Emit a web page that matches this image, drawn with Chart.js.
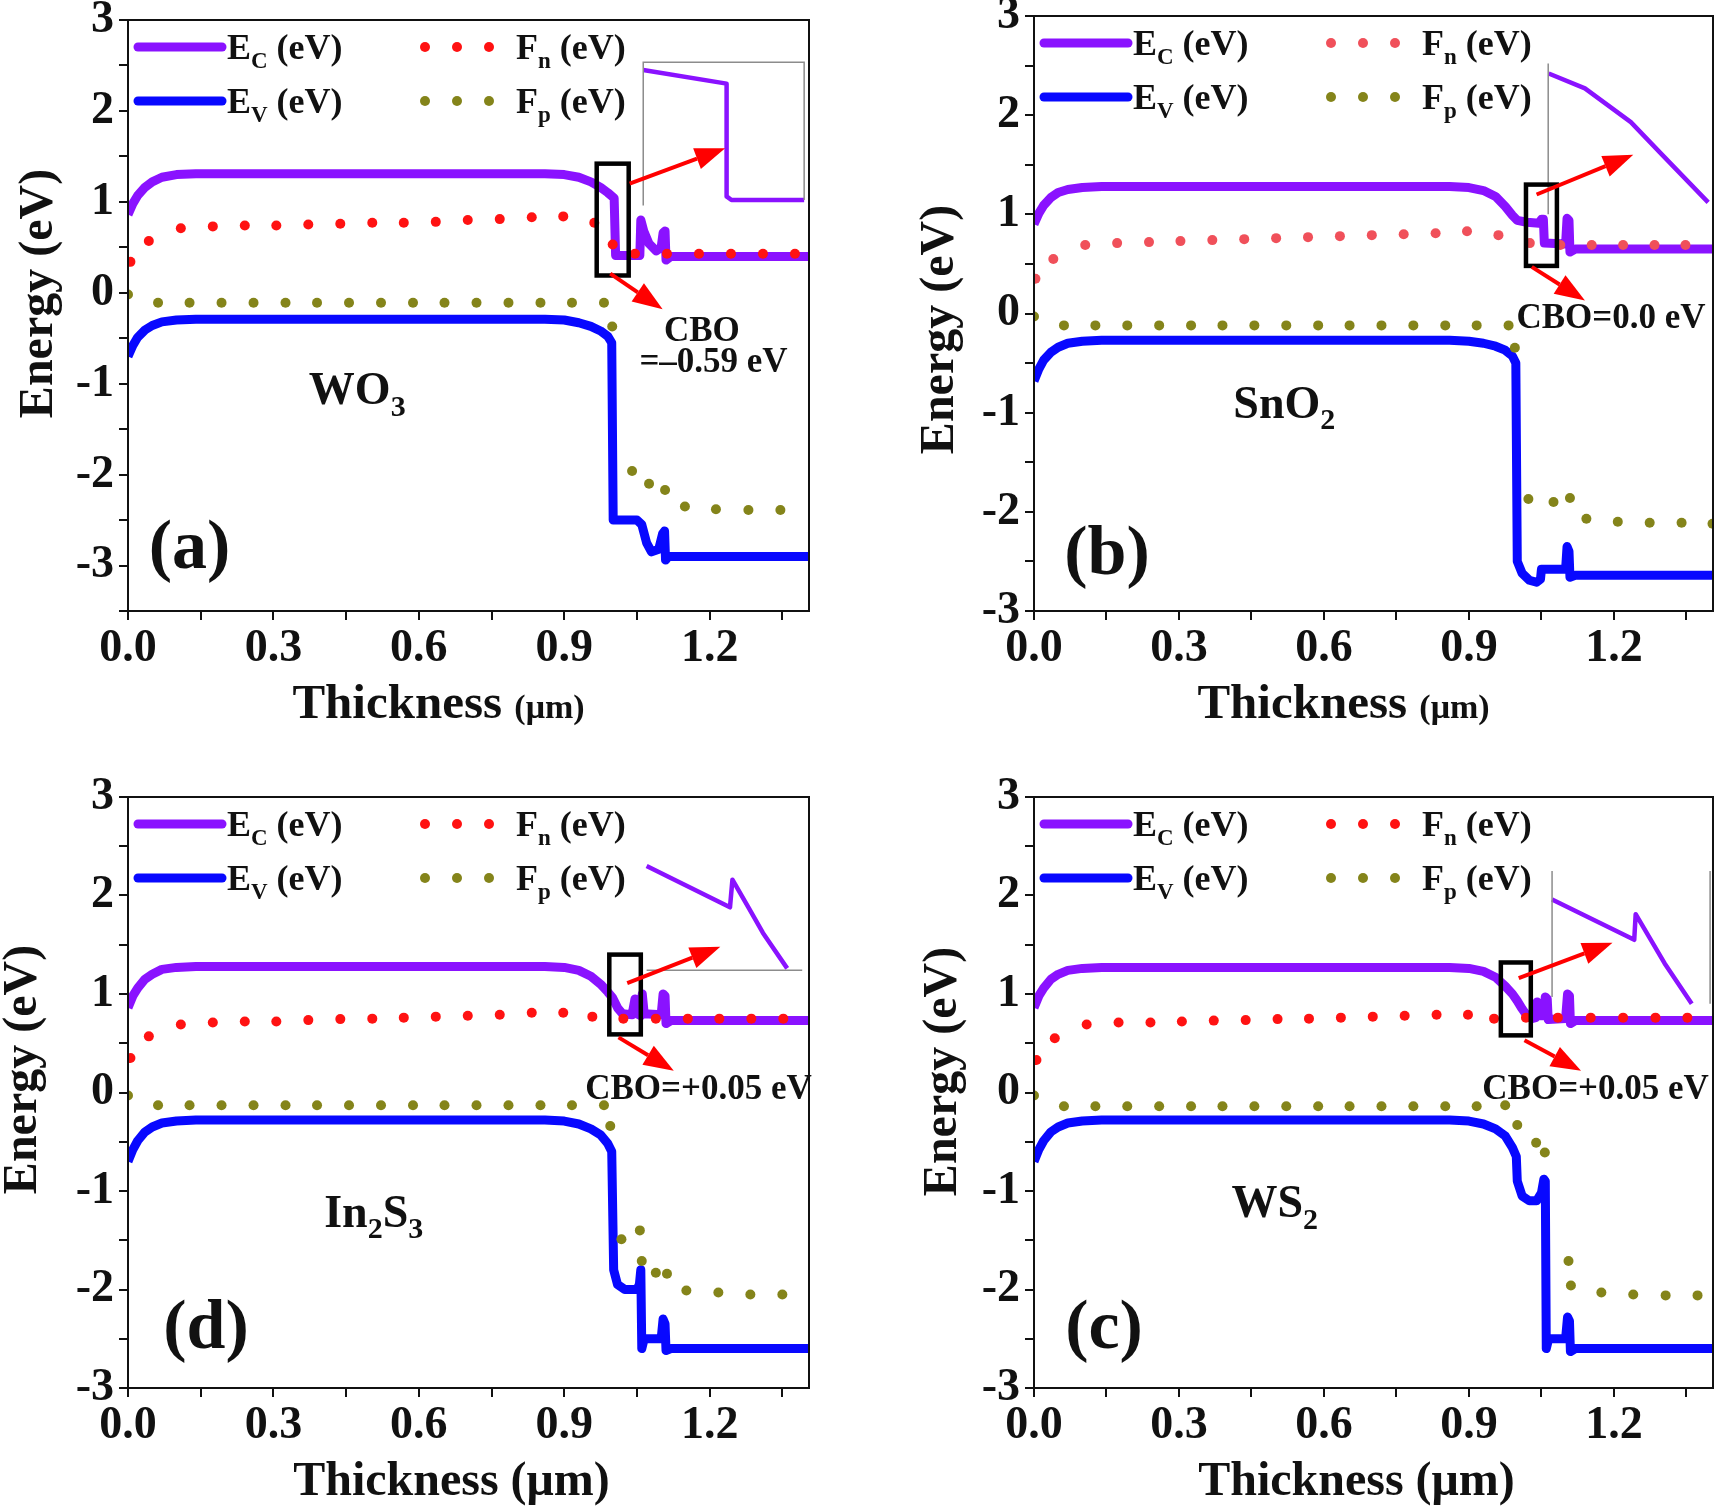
<!DOCTYPE html>
<html>
<head>
<meta charset="utf-8">
<script src="https://cdn.jsdelivr.net/npm/chart.js@4.4.1/dist/chart.umd.min.js"></script>
<style>
  html, body { margin: 0; padding: 0; background: #fff; }
  #wrap { position: relative; width: 1718px; height: 1509px; }
  canvas { position: absolute; }
</style>
</head>
<body>
<div id="wrap">
  <canvas id="cA" width="859" height="754" style="left:0;top:0"></canvas>
  <canvas id="cB" width="859" height="754" style="left:859px;top:0"></canvas>
  <canvas id="cD" width="859" height="755" style="left:0;top:754px"></canvas>
  <canvas id="cC" width="859" height="755" style="left:859px;top:754px"></canvas>
</div>
<script>
// axis ticks
const xMajor = [0, 0.3, 0.6, 0.9, 1.2];
const xMinor = [0.15, 0.45, 0.75, 1.05, 1.35];
const yMajor = [-3, -2, -1, 0, 1, 2, 3];
const yMinor = [-3.5, -2.5, -1.5, -0.5, 0.5, 1.5, 2.5];
const xMax = 1.405;

const seriesNames = ['E_C (eV)', 'E_V (eV)', 'F_n (eV)', 'F_p (eV)'];

// (a) WO3  -- [thickness um, energy eV]
const ecA = [[0,0.86],[0.01,0.98],[0.02,1.07],[0.035,1.16],[0.05,1.22],[0.07,1.27],[0.1,1.30],[0.14,1.31],[0.86,1.31],[0.9,1.30],[0.93,1.27],[0.955,1.22],[0.975,1.16],[0.99,1.10],[1.003,1.04],[1.006,0.41],[1.056,0.41],[1.058,0.80],[1.064,0.68],[1.075,0.54],[1.09,0.46],[1.1,0.50],[1.104,0.66],[1.108,0.68],[1.11,0.36],[1.12,0.40],[1.405,0.40]];
const evA = [[0,-0.70],[0.01,-0.58],[0.02,-0.49],[0.035,-0.41],[0.05,-0.36],[0.07,-0.32],[0.1,-0.30],[0.14,-0.29],[0.86,-0.29],[0.9,-0.30],[0.93,-0.33],[0.955,-0.37],[0.975,-0.42],[0.99,-0.48],[0.998,-0.55],[1.001,-2.50],[1.05,-2.50],[1.06,-2.55],[1.07,-2.75],[1.08,-2.85],[1.095,-2.82],[1.103,-2.65],[1.107,-2.62],[1.109,-2.94],[1.115,-2.90],[1.405,-2.90]];
const fnA = [[0.005,0.34],[0.043,0.57],[0.109,0.71],[0.175,0.73],[0.241,0.74],[0.306,0.74],[0.372,0.75],[0.438,0.76],[0.504,0.77],[0.569,0.77],[0.635,0.78],[0.701,0.80],[0.767,0.81],[0.833,0.83],[0.898,0.84],[0.962,0.77],[1.0,0.53],[1.046,0.43],[1.112,0.43],[1.178,0.43],[1.244,0.43],[1.31,0.43],[1.376,0.43]];
const fpA = [[0,-0.02],[0.062,-0.11],[0.127,-0.11],[0.193,-0.11],[0.259,-0.11],[0.325,-0.11],[0.39,-0.11],[0.456,-0.11],[0.522,-0.11],[0.588,-0.11],[0.653,-0.11],[0.719,-0.11],[0.785,-0.11],[0.851,-0.11],[0.916,-0.11],[0.982,-0.11],[0.999,-0.37],[1.04,-1.96],[1.075,-2.10],[1.108,-2.17],[1.149,-2.35],[1.213,-2.38],[1.28,-2.39],[1.346,-2.39]];
const insetA = [[1.063,2.45],[1.235,2.30],[1.235,1.06],[1.245,1.02],[1.395,1.02]];

// (b) SnO2
const ecB = [[0,0.90],[0.01,1.01],[0.02,1.09],[0.035,1.17],[0.05,1.22],[0.07,1.25],[0.1,1.27],[0.14,1.28],[0.86,1.28],[0.9,1.27],[0.93,1.24],[0.955,1.18],[0.975,1.08],[0.99,0.99],[1.0,0.94],[1.02,0.92],[1.045,0.91],[1.05,0.95],[1.054,0.95],[1.056,0.71],[1.1,0.70],[1.103,0.96],[1.107,0.94],[1.109,0.62],[1.12,0.65],[1.405,0.65]];
const evB = [[0,-0.68],[0.01,-0.56],[0.02,-0.47],[0.035,-0.39],[0.05,-0.34],[0.07,-0.30],[0.1,-0.28],[0.14,-0.27],[0.86,-0.27],[0.9,-0.28],[0.93,-0.30],[0.955,-0.33],[0.975,-0.37],[0.99,-0.43],[0.997,-0.50],[1.0,-2.50],[1.01,-2.62],[1.025,-2.69],[1.04,-2.71],[1.048,-2.68],[1.05,-2.58],[1.1,-2.58],[1.103,-2.35],[1.107,-2.40],[1.109,-2.66],[1.12,-2.64],[1.405,-2.64]];
const fnB = [[0.003,0.35],[0.04,0.55],[0.106,0.69],[0.172,0.71],[0.238,0.72],[0.303,0.73],[0.369,0.74],[0.435,0.75],[0.501,0.76],[0.567,0.77],[0.633,0.78],[0.699,0.79],[0.765,0.80],[0.831,0.81],[0.896,0.83],[0.961,0.79],[1.026,0.71],[1.089,0.69],[1.154,0.69],[1.219,0.69],[1.284,0.69],[1.348,0.69]];
const fpB = [[0,-0.03],[0.062,-0.12],[0.127,-0.12],[0.193,-0.12],[0.259,-0.12],[0.325,-0.12],[0.39,-0.12],[0.456,-0.12],[0.522,-0.12],[0.588,-0.12],[0.653,-0.12],[0.719,-0.12],[0.785,-0.12],[0.851,-0.12],[0.916,-0.12],[0.982,-0.12],[0.995,-0.345],[1.023,-1.87],[1.075,-1.90],[1.109,-1.86],[1.143,-2.07],[1.208,-2.10],[1.274,-2.11],[1.34,-2.11],[1.404,-2.12]];
const insetB = [[1.065,2.42],[1.14,2.27],[1.235,1.93],[1.30,1.60],[1.395,1.12]];

// (d) In2S3
const ecD = [[0,0.86],[0.01,0.98],[0.02,1.06],[0.035,1.15],[0.05,1.20],[0.07,1.25],[0.1,1.27],[0.14,1.28],[0.86,1.28],[0.9,1.27],[0.93,1.24],[0.955,1.18],[0.975,1.10],[0.99,1.02],[1.0,0.96],[1.01,0.86],[1.02,0.80],[1.04,0.79],[1.046,0.95],[1.05,0.80],[1.058,0.78],[1.061,1.0],[1.065,0.80],[1.1,0.79],[1.104,1.0],[1.108,0.98],[1.11,0.70],[1.12,0.73],[1.405,0.73]];
const evD = [[0,-0.70],[0.01,-0.58],[0.02,-0.49],[0.035,-0.40],[0.05,-0.35],[0.07,-0.31],[0.1,-0.29],[0.14,-0.28],[0.86,-0.28],[0.9,-0.29],[0.93,-0.32],[0.955,-0.37],[0.975,-0.43],[0.99,-0.52],[0.998,-0.60],[1.002,-1.80],[1.01,-1.95],[1.025,-2.0],[1.05,-2.0],[1.055,-1.95],[1.058,-1.80],[1.06,-2.60],[1.065,-2.50],[1.1,-2.50],[1.104,-2.30],[1.108,-2.35],[1.11,-2.62],[1.12,-2.60],[1.405,-2.60]];
const fnD = [[0.005,0.35],[0.043,0.57],[0.109,0.69],[0.175,0.71],[0.241,0.72],[0.306,0.72],[0.372,0.735],[0.438,0.745],[0.504,0.75],[0.569,0.76],[0.635,0.77],[0.701,0.78],[0.767,0.79],[0.833,0.81],[0.898,0.81],[0.958,0.77],[1.022,0.75],[1.089,0.75],[1.155,0.75],[1.22,0.75],[1.286,0.75],[1.352,0.75]];
const fpD = [[0,-0.03],[0.062,-0.13],[0.127,-0.13],[0.193,-0.13],[0.259,-0.13],[0.325,-0.13],[0.39,-0.13],[0.456,-0.13],[0.522,-0.13],[0.588,-0.13],[0.653,-0.13],[0.719,-0.13],[0.785,-0.13],[0.851,-0.13],[0.916,-0.13],[0.982,-0.13],[0.995,-0.34],[1.018,-1.49],[1.056,-1.40],[1.06,-1.71],[1.089,-1.83],[1.112,-1.84],[1.152,-2.01],[1.218,-2.03],[1.284,-2.05],[1.35,-2.05]];
const insetD = [[1.07,2.30],[1.242,1.88],[1.247,2.16],[1.28,1.88],[1.31,1.62],[1.36,1.26]];

// (c) WS2
const ecC = [[0,0.86],[0.01,0.98],[0.02,1.06],[0.035,1.15],[0.05,1.20],[0.07,1.24],[0.1,1.26],[0.14,1.27],[0.86,1.27],[0.9,1.26],[0.93,1.23],[0.955,1.17],[0.975,1.08],[0.99,1.0],[1.0,0.93],[1.01,0.85],[1.02,0.78],[1.03,0.75],[1.038,0.76],[1.041,0.92],[1.045,0.78],[1.055,0.78],[1.058,0.97],[1.062,0.95],[1.064,0.74],[1.1,0.75],[1.104,1.0],[1.108,0.98],[1.11,0.70],[1.12,0.73],[1.405,0.73]];
const evC = [[0,-0.70],[0.01,-0.58],[0.02,-0.49],[0.035,-0.40],[0.05,-0.35],[0.07,-0.31],[0.1,-0.29],[0.14,-0.28],[0.86,-0.28],[0.9,-0.29],[0.93,-0.32],[0.955,-0.37],[0.975,-0.44],[0.99,-0.56],[0.998,-0.65],[1.0,-0.90],[1.01,-1.05],[1.025,-1.10],[1.04,-1.10],[1.05,-1.02],[1.055,-0.88],[1.058,-0.90],[1.06,-2.60],[1.065,-2.50],[1.1,-2.50],[1.104,-2.28],[1.108,-2.32],[1.11,-2.63],[1.12,-2.60],[1.405,-2.60]];
const fnC = [[0.005,0.33],[0.043,0.55],[0.109,0.69],[0.175,0.71],[0.241,0.71],[0.306,0.72],[0.372,0.73],[0.438,0.735],[0.504,0.745],[0.569,0.75],[0.635,0.76],[0.701,0.77],[0.767,0.78],[0.833,0.79],[0.898,0.79],[0.952,0.75],[1.018,0.76],[1.084,0.76],[1.152,0.76],[1.219,0.76],[1.286,0.76],[1.352,0.76]];
const fpC = [[0,-0.03],[0.062,-0.14],[0.127,-0.14],[0.193,-0.14],[0.259,-0.14],[0.325,-0.14],[0.39,-0.14],[0.456,-0.14],[0.522,-0.14],[0.588,-0.14],[0.653,-0.14],[0.719,-0.14],[0.785,-0.14],[0.851,-0.14],[0.916,-0.14],[0.975,-0.13],[1.0,-0.33],[1.039,-0.51],[1.057,-0.61],[1.106,-1.71],[1.111,-1.96],[1.174,-2.03],[1.24,-2.05],[1.307,-2.06],[1.373,-2.06]];
const insetC = [[1.072,1.96],[1.242,1.55],[1.245,1.81],[1.305,1.31],[1.361,0.90]];

const serif = '"Liberation Serif", "Times New Roman", serif';
const PURPLE = '#8A12FF', BLUE = '#0808FF', RED = '#FF1212', SALMON = '#F0505A', OLIVE = '#84841A', INK = '#111';

function bold(size) { return 'bold ' + size + 'px ' + serif; }

// "WO_3" -> runs with one-character subscripts
function richRuns(text, size) {
  const parts = text.split('_');
  const runs = [{t: parts[0], size: size, dy: 0}];
  for (let i = 1; i < parts.length; i++) {
    runs.push({t: parts[i][0], size: Math.round(size * 0.65), dy: size * 0.25});
    if (parts[i].length > 1) runs.push({t: parts[i].slice(1), size: size, dy: 0});
  }
  return runs;
}
function runsWidth(ctx, runs) {
  let w = 0;
  runs.forEach(r => { ctx.font = bold(r.size); w += ctx.measureText(r.t).width; });
  return w;
}
function drawRuns(ctx, runs, x, y, centered) {
  if (centered) x -= runsWidth(ctx, runs) / 2;
  runs.forEach(r => { ctx.font = bold(r.size); ctx.fillText(r.t, x, y + r.dy); x += ctx.measureText(r.t).width; });
}

function decorPlugin(p) {
  return {
    id: 'decor' + p.id,
    afterDatasetsDraw(chart) {
      const {ctx, chartArea: a, scales: {x, y}} = chart;
      const px = v => x.getPixelForValue(v), py = v => y.getPixelForValue(v);
      ctx.save();
      ctx.lineCap = 'butt';
      ctx.strokeStyle = INK; ctx.lineWidth = 2;
      ctx.strokeRect(a.left, a.top, a.right - a.left, a.bottom - a.top);

      // thin guides around the zoomed inset
      ctx.strokeStyle = '#8c8c8c'; ctx.lineWidth = 1.5;
      p.guide.forEach(line => {
        ctx.beginPath();
        line.forEach((q, i) => i ? ctx.lineTo(px(q[0]), py(q[1])) : ctx.moveTo(px(q[0]), py(q[1])));
        ctx.stroke();
      });

      // black box around the interface
      ctx.strokeStyle = '#000'; ctx.lineWidth = 4.5;
      const b = p.box;
      ctx.strokeRect(px(b[0]), py(b[1]), px(b[2]) - px(b[0]), py(b[3]) - py(b[1]));

      // red arrows
      ctx.strokeStyle = '#FF0000'; ctx.fillStyle = '#FF0000'; ctx.lineWidth = 4;
      p.arrows.forEach(r => {
        const x1 = px(r[0]), y1 = py(r[1]), x2 = px(r[2]), y2 = py(r[3]);
        const ang = Math.atan2(y2 - y1, x2 - x1), L = 30, H = 11;
        const bx = x2 - L * Math.cos(ang), by = y2 - L * Math.sin(ang);
        ctx.beginPath(); ctx.moveTo(x1, y1); ctx.lineTo(bx, by); ctx.stroke();
        ctx.beginPath();
        ctx.moveTo(x2, y2);
        ctx.lineTo(bx + H * Math.sin(ang), by - H * Math.cos(ang));
        ctx.lineTo(bx - H * Math.sin(ang), by + H * Math.cos(ang));
        ctx.closePath(); ctx.fill();
      });

      ctx.fillStyle = INK;
      ctx.textBaseline = 'alphabetic';
      ctx.textAlign = 'left';
      p.cbo.forEach(c => drawRuns(ctx, richRuns(c[0], 35), px(c[1]), py(c[2]) + 35 * 0.33, true));
      drawRuns(ctx, richRuns(p.material[0], 46), px(p.material[1]), py(p.material[2]) + 46 * 0.33, true);
      drawRuns(ctx, richRuns(p.letter[0], 70), px(p.letter[1]), py(p.letter[2]) + 70 * 0.25, true);

      // legend
      chart.data.datasets.forEach(ds => {
        if (!ds.legendSlot) return;
        const [col, row] = ds.legendSlot;
        const ly = a.top + (row ? 81 : 27);
        if (col === 0) {
          ctx.strokeStyle = ds.borderColor; ctx.lineWidth = 9; ctx.lineCap = 'round';
          ctx.beginPath(); ctx.moveTo(a.left + 10, ly); ctx.lineTo(a.left + 94, ly); ctx.stroke();
          ctx.fillStyle = INK;
          drawRuns(ctx, richRuns(ds.label, 36), a.left + 99, ly + 12, false);
        } else {
          ctx.fillStyle = ds.pointBackgroundColor;
          [297, 329, 361].forEach(dx => { ctx.beginPath(); ctx.arc(a.left + dx, ly, 5, 0, Math.PI * 2); ctx.fill(); });
          ctx.fillStyle = INK;
          drawRuns(ctx, richRuns(ds.label, 36), a.left + 388, ly + 12, false);
        }
      });

      // axis titles
      ctx.fillStyle = INK;
      const xt = p.xTitle.map(r => ({t: r[0], size: r[1], dy: 0}));
      drawRuns(ctx, xt, (a.left + a.right) / 2 + p.xTitleDx, a.bottom + 107, true);
      ctx.translate(a.left + p.yTitleDx, (a.top + a.bottom) / 2 + p.yTitleDy);
      ctx.rotate(-Math.PI / 2);
      drawRuns(ctx, [{t: 'Energy (eV)', size: 48, dy: 0}], 0, 48 * 0.22, true);
      ctx.restore();
    }
  };
}

function bandChart(p) {
  const pts = arr => arr.map(([x, y]) => ({x, y}));
  const lineSet = (label, data, color, width, slot) => ({
    label, data: pts(data), borderColor: color, backgroundColor: color, borderWidth: width,
    pointRadius: 0, tension: 0, fill: false, order: 1, legendSlot: slot, borderJoinStyle: 'round'
  });
  const dotSet = (label, data, color, slot) => ({
    label, data: pts(data), showLine: false, pointRadius: 5, pointBorderWidth: 0,
    pointBackgroundColor: color, borderColor: color, backgroundColor: color, order: 0, legendSlot: slot
  });
  const tickFont = {family: serif, size: 46, weight: 'bold'};
  new Chart(document.getElementById(p.id), {
    type: 'line',
    data: {
      datasets: [
        lineSet(seriesNames[0], p.ec, PURPLE, 9, [0, 0]),
        lineSet(seriesNames[1], p.ev, BLUE, 9, [0, 1]),
        dotSet(seriesNames[2], p.fn, p.fnColor, [1, 0]),
        dotSet(seriesNames[3], p.fp, OLIVE, [1, 1]),
        lineSet('inset', p.inset, PURPLE, 4.5, null)
      ]
    },
    options: {
      responsive: false,
      animation: false,
      events: [],
      layout: {padding: p.pad},
      plugins: {legend: {display: false}, tooltip: {enabled: false}},
      scales: {
        x: {
          type: 'linear', min: 0, max: xMax,
          border: {color: INK, width: 2},
          grid: {drawOnChartArea: false, drawTicks: true, tickLength: 9, color: INK, lineWidth: 2},
          afterBuildTicks: s => { s.ticks = xMajor.concat(xMinor).sort((m, n) => m - n).map(v => ({value: v})); },
          afterFit: s => { s.height = 120; s.paddingLeft = 0; s.paddingRight = 0; },
          ticks: {
            autoSkip: false, maxRotation: 0, padding: 2, color: INK, font: tickFont,
            callback: v => xMajor.includes(v) ? v.toFixed(1) : ''
          }
        },
        y: {
          type: 'linear', min: p.yMin, max: 3,
          border: {color: INK, width: 2},
          grid: {drawOnChartArea: false, drawTicks: true, tickLength: 9, color: INK, lineWidth: 2},
          afterBuildTicks: s => {
            s.ticks = yMajor.concat(yMinor).filter(v => v >= p.yMin).sort((m, n) => m - n).map(v => ({value: v}));
          },
          afterFit: s => { s.width = 128; s.paddingTop = 0; s.paddingBottom = 0; },
          ticks: {
            autoSkip: false, padding: 5, color: INK, font: tickFont,
            callback: v => yMajor.includes(v) ? String(v) : ''
          }
        }
      }
    },
    plugins: [decorPlugin(p)]
  });
}

bandChart({
  id: 'cA', yMin: -3.5, pad: {left: 0, top: 20, right: 50, bottom: 23},
  ec: ecA, ev: evA, fn: fnA, fp: fpA, inset: insetA, fnColor: RED,
  guide: [[[1.063, 0.96], [1.063, 2.535], [1.395, 2.535], [1.395, 1.02]]],
  box: [0.967, 1.42, 1.033, 0.19],
  arrows: [[1.035, 1.20, 1.232, 1.59], [0.995, 0.21, 1.103, -0.18]],
  cbo: [['CBO', 1.184, -0.40], ['=\u20130.59 eV', 1.208, -0.74]],
  material: ['WO_3', 0.473, -1.06], letter: ['(a)', 0.127, -2.83],
  xTitle: [['Thickness ', 49], ['(\u03bcm)', 34]], xTitleDx: -30, yTitleDx: -87, yTitleDy: -22
});

bandChart({
  id: 'cB', yMin: -3, pad: {left: 47, top: 16, right: 3, bottom: 23},
  ec: ecB, ev: evB, fn: fnB, fp: fpB, inset: insetB, fnColor: SALMON,
  guide: [[[1.064, 2.52], [1.064, 1.0]]],
  box: [1.018, 1.30, 1.082, 0.48],
  arrows: [[1.04, 1.20, 1.24, 1.60], [1.03, 0.47, 1.14, 0.13]],
  cbo: [['CBO=0.0 eV', 1.194, -0.03]],
  material: ['SnO_2', 0.518, -0.90], letter: ['(b)', 0.151, -2.45],
  xTitle: [['Thickness ', 49], ['(\u03bcm)', 34]], xTitleDx: -30, yTitleDx: -92, yTitleDy: 16
});

bandChart({
  id: 'cD', yMin: -3, pad: {left: 0, top: 43, right: 50, bottom: 1},
  ec: ecD, ev: evD, fn: fnD, fp: fpD, inset: insetD, fnColor: RED,
  guide: [[[1.07, 1.24], [1.391, 1.24]]],
  box: [0.993, 1.40, 1.058, 0.59],
  arrows: [[1.03, 1.11, 1.222, 1.48], [1.012, 0.56, 1.126, 0.22]],
  cbo: [['CBO=+0.05 eV', 1.177, 0.05]],
  material: ['In_2S_3', 0.507, -1.21], letter: ['(d)', 0.161, -2.42],
  xTitle: [['Thickness (\u03bcm)', 48]], xTitleDx: -17, yTitleDx: -103, yTitleDy: -23
});

bandChart({
  id: 'cC', yMin: -3, pad: {left: 47, top: 43, right: 3, bottom: 1},
  ec: ecC, ev: evC, fn: fnC, fp: fpC, inset: insetC, fnColor: RED,
  guide: [[[1.072, 2.25], [1.072, 0.97]], [[1.399, 2.25], [1.399, 0.90]]],
  box: [0.966, 1.32, 1.028, 0.58],
  arrows: [[1.003, 1.16, 1.197, 1.52], [1.015, 0.53, 1.132, 0.22]],
  cbo: [['CBO=+0.05 eV', 1.162, 0.05]],
  material: ['WS_2', 0.498, -1.11], letter: ['(c)', 0.145, -2.42],
  xTitle: [['Thickness (\u03bcm)', 48]], xTitleDx: -17, yTitleDx: -89, yTitleDy: -21
});
</script>
</body>
</html>
